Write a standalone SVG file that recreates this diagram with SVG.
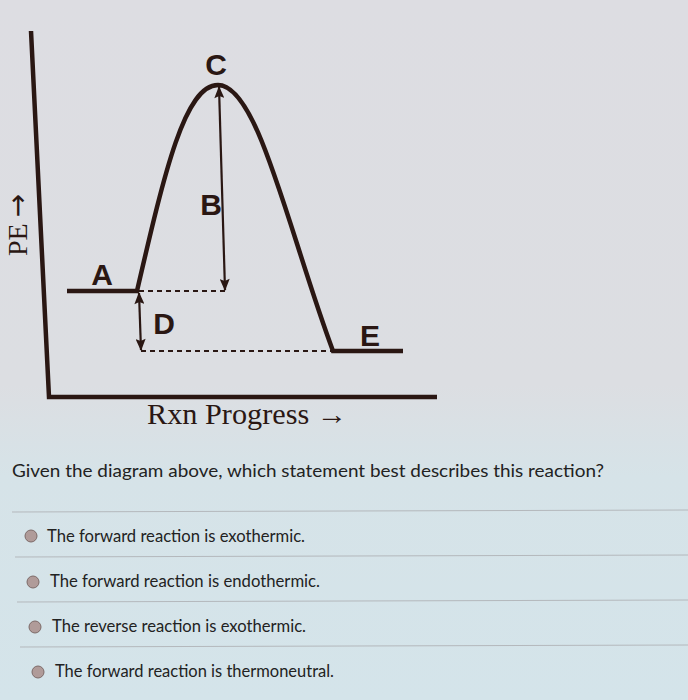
<svg xmlns="http://www.w3.org/2000/svg" width="688" height="700" viewBox="0 0 688 700">
<defs>
<linearGradient id="bg" x1="0" y1="0" x2="0" y2="1">
<stop offset="0" stop-color="#dddde2"/>
<stop offset="0.55" stop-color="#dcdee2"/>
<stop offset="0.68" stop-color="#d6e3e8"/>
<stop offset="1" stop-color="#d4e4ea"/>
</linearGradient>
<marker id="ah" viewBox="0 0 12 10" refX="11" refY="5" markerWidth="13" markerHeight="10" orient="auto-start-reverse" markerUnits="userSpaceOnUse">
<path d="M0,0 L12,5 L0,10 L2,5 z" fill="#2a1713"/>
</marker>
</defs>
<style>
.ln{stroke:#2a1713;fill:none;stroke-width:4.5;stroke-linecap:butt}
.dash{stroke:#2a1713;fill:none;stroke-width:2;stroke-dasharray:5 4}
.arr{stroke:#2a1713;fill:none;stroke-width:2.2}
.lbl{font-family:"Liberation Sans",Arial,sans-serif;font-size:30px;font-weight:bold;fill:#2a1713;text-anchor:middle}
.ser{font-family:"Liberation Serif","Times New Roman",serif;fill:#2a1713}
.q{font-family:Lato,"Open Sans",sans-serif;fill:#222;font-size:18px}
.sep{stroke:#b4b8bc;stroke-width:1}
.rad{fill:#b09b99;stroke:#7d6a68;stroke-width:1}
</style>
<rect width="688" height="700" fill="url(#bg)"/>
<g id="axes">
<path class="ln" d="M31,31 L49,397 L437,397"/>
</g>
<g id="curve">
<path class="ln" d="M67,291 L137,291 C165,170 185,85 218,85 C258,85 288,230 333,351 L403,351"/>
</g>
<g id="connectors">
<path class="dash" d="M139,291 L226,291"/>
<path class="dash" d="M141,351 L333,351"/>
<line class="arr" x1="225" y1="290" x2="219" y2="87" marker-start="url(#ah)" marker-end="url(#ah)"/>
<line class="arr" x1="139" y1="293" x2="141" y2="350" marker-start="url(#ah)" marker-end="url(#ah)"/>
</g>
<g id="label-C"><text class="lbl" x="216" y="75">C</text></g>
<g id="label-B"><text class="lbl" x="211" y="215">B</text></g>
<g id="label-A"><text class="lbl" x="102" y="285">A</text></g>
<g id="label-D"><text class="lbl" x="164" y="334">D</text></g>
<g id="label-E"><text class="lbl" x="370" y="346">E</text></g>
<g id="axis-y-label">
<text class="ser" font-size="28" transform="translate(27,256) rotate(-90)">PE<tspan font-family="DejaVu Sans" font-size="28" dx="6">→</tspan></text>
</g>
<g id="axis-x-label">
<text class="ser" font-size="29" x="147" y="424" textLength="200" lengthAdjust="spacingAndGlyphs">Rxn Progress →</text>
</g>
<g id="question">
<text class="q" x="12" y="477" textLength="592" lengthAdjust="spacingAndGlyphs">Given the diagram above, which statement best describes this reaction?</text>
<line class="sep" x1="12" y1="512" x2="688" y2="510"/>
<line class="sep" x1="15" y1="557" x2="688" y2="555"/>
<line class="sep" x1="17" y1="602" x2="688" y2="600"/>
<line class="sep" x1="20" y1="647" x2="688" y2="645"/>
</g>
<g id="option-1">
<circle class="rad" cx="31" cy="536" r="6"/>
<text class="q" x="47" y="542" textLength="258" lengthAdjust="spacingAndGlyphs">The forward reaction is exothermic.</text>
</g>
<g id="option-2">
<circle class="rad" cx="33" cy="582" r="6"/>
<text class="q" x="50" y="587" textLength="270" lengthAdjust="spacingAndGlyphs">The forward reaction is endothermic.</text>
</g>
<g id="option-3">
<circle class="rad" cx="35" cy="627" r="6"/>
<text class="q" x="52" y="632" textLength="254" lengthAdjust="spacingAndGlyphs">The reverse reaction is exothermic.</text>
</g>
<g id="option-4">
<circle class="rad" cx="38" cy="672" r="6"/>
<text class="q" x="55" y="677" textLength="279" lengthAdjust="spacingAndGlyphs">The forward reaction is thermoneutral.</text>
</g>
</svg>
